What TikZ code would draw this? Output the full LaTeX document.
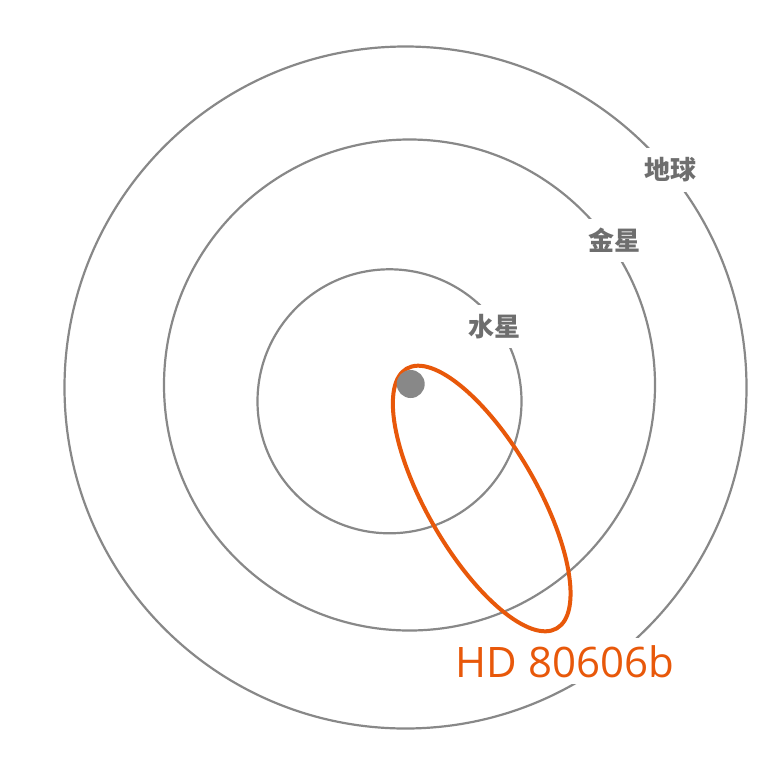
\documentclass[tikz,border=0pt]{standalone}
\usepackage{fontspec}
\newfontfamily\cjk{Noto Sans CJK SC}
\newfontfamily\hdfont{Open Sans}
\definecolor{orbit}{RGB}{136,136,136}
\definecolor{lbl}{RGB}{110,110,110}
\definecolor{hdorange}{RGB}{232,88,10}
\begin{document}
\begin{tikzpicture}[x=1pt,y=-1pt,
  orbitline/.style={draw=orbit, line width=2.2pt},
  planetlabel/.style={fill=white, text=lbl, font=\cjk\bfseries\fontsize{26}{26}\selectfont, inner sep=9.5pt},
  hdlabel/.style={fill=white, text=hdorange, font=\hdfont\fontsize{42}{42}\selectfont, inner sep=7pt, anchor=base}]
\useasboundingbox[fill=white] (0,0) rectangle (783,760);
\draw[orbitline] (405.5,387.5) circle [radius=341pt];
\draw[orbitline] (409.5,385) circle [radius=245.5pt];
\draw[orbitline] (389.5,401.3) circle [radius=132pt];
\draw[hdorange, line width=4pt, rotate around={-60:(481.7,498.5)}] (481.7,498.5) ellipse [x radius=150pt, y radius=55pt];
\node[circle, fill=orbit, minimum size=28pt, inner sep=0pt] (star) at (410.7,384) {};
\node[planetlabel] (earth) at (670.5,170) {地球};
\node[planetlabel] (venus) at (614,240.5) {金星};
\node[planetlabel] (mercury) at (494,326.5) {水星};
\node[hdlabel] (hd) at (565,677) {HD 80606b};
\end{tikzpicture}
\end{document}
